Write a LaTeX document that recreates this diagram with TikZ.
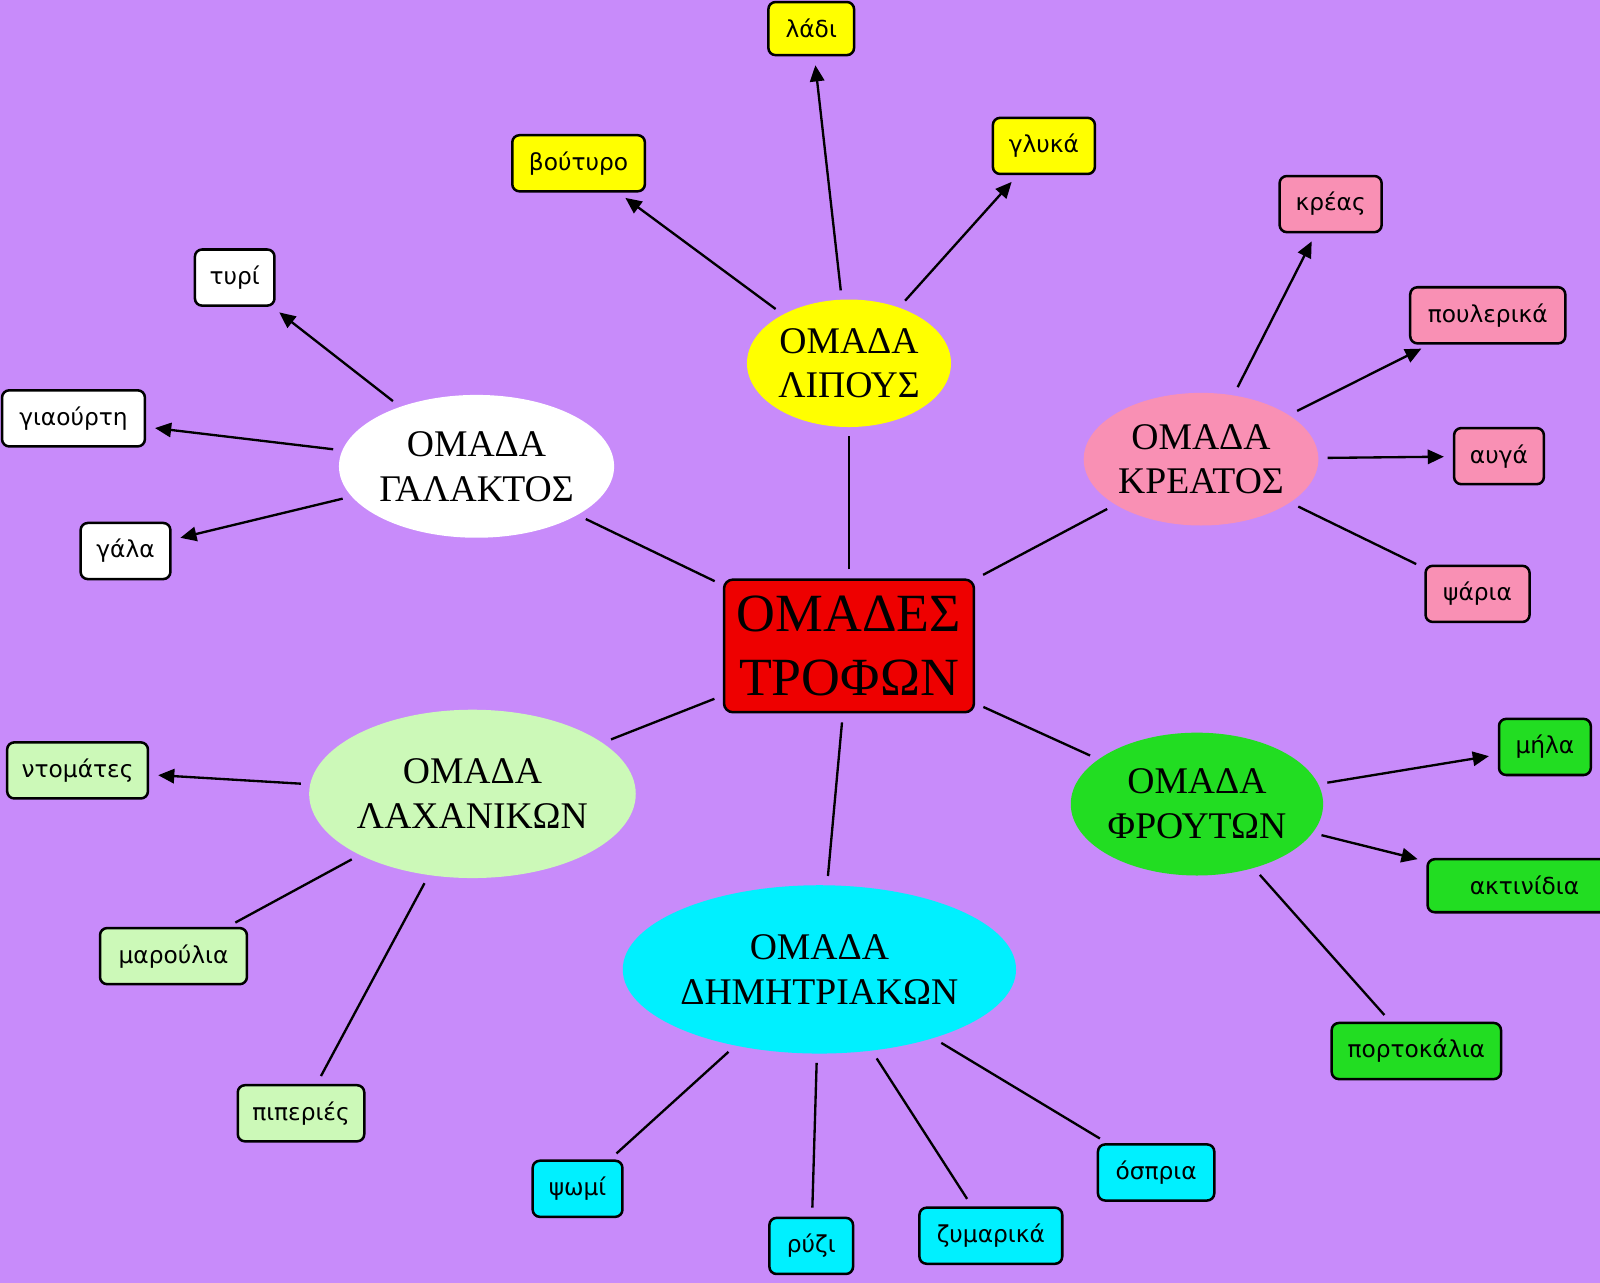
\documentclass[tikz,border=0pt]{standalone}
\usepackage{fontspec}
\setmainfont{Liberation Serif}
\newfontfamily\boxfont{DejaVu Sans}
\usetikzlibrary{shapes.geometric,arrows.meta}
\definecolor{bg}{HTML}{C88BFA}
\definecolor{fat}{HTML}{FFFF00}
\definecolor{meat}{HTML}{F990B4}
\definecolor{veg}{HTML}{CCF9B8}
\definecolor{fruit}{HTML}{22DD22}
\definecolor{cer}{HTML}{00F0FF}
\definecolor{core}{HTML}{EE0000}
\begin{document}
\begin{tikzpicture}[x=0.02cm,y=-0.02cm,
  grp/.style={ellipse,inner sep=0pt,align=center,font=\fontsize{21}{25}\selectfont},
  leaf/.style={draw=black,line width=1.4pt,rounded corners=4pt,inner sep=0pt,minimum height=1.1cm,font=\boxfont\fontsize{13}{15}\selectfont},
  ln/.style={line width=1.3pt,shorten <=5pt,shorten >=5pt},
  ar/.style={ln,-{Triangle[length=9pt,width=8pt]}}]
\fill[bg] (0,0) rectangle (1568,1257);
\useasboundingbox (0,0) rectangle (1568,1257);
\node[draw,line width=1.4pt,rounded corners=5pt,fill=core,minimum width=4.9cm,minimum height=2.6cm,align=center,font=\fontsize{30}{36}\selectfont] (c) at (832,633) {ΟΜΑΔΕΣ\\ΤΡΟΦΩΝ};
\node[grp,fill=fat,minimum width=4cm,minimum height=2.5cm] (gf) at (832,356) {ΟΜΑΔΑ\\ΛΙΠΟΥΣ};
\node[grp,fill=white,minimum width=5.2cm,minimum height=2.8cm] (gg) at (467,457) {ΟΜΑΔΑ\\ΓΑΛΑΚΤΟΣ};
\node[grp,fill=meat,minimum width=4.6cm,minimum height=2.6cm] (gk) at (1177,450) {ΟΜΑΔΑ\\ΚΡΕΑΤΟΣ};
\node[grp,fill=veg,minimum width=5.9cm,minimum height=3.3cm] (gl) at (463,778) {ΟΜΑΔΑ\\ΛΑΧΑΝΙΚΩΝ};
\node[grp,fill=fruit,minimum width=4.76cm,minimum height=2.8cm] (gr) at (1173,788) {ΟΜΑΔΑ\\ΦΡΟΥΤΩΝ};
\node[grp,fill=cer,minimum width=6.76cm,minimum height=3.3cm] (gd) at (803,950) {ΟΜΑΔΑ\\ΔΗΜΗΤΡΙΑΚΩΝ};
% leaves
\node[leaf,fill=fat,minimum width=1.68cm,minimum height=1.04cm] (l1) at (795,28) {λάδι};
\node[leaf,fill=fat,minimum width=2.6cm] (l2) at (567,160) {βούτυρο};
\node[leaf,fill=fat,minimum width=2cm] (l3) at (1023,143) {γλυκά};
\node[leaf,fill=white,minimum width=1.56cm] (m1) at (230,272) {τυρί};
\node[leaf,fill=white,minimum width=2.8cm] (m2) at (72,410) {γιαούρτη};
\node[leaf,fill=white,minimum width=1.76cm] (m3) at (123,540) {γάλα};
\node[leaf,fill=meat,minimum width=2cm] (k1) at (1304,200) {κρέας};
\node[leaf,fill=meat,minimum width=3.04cm] (k2) at (1458,309) {πουλερικά};
\node[leaf,fill=meat,minimum width=1.76cm] (k3) at (1469,447) {αυγά};
\node[leaf,fill=meat,minimum width=2.04cm] (k4) at (1448,582) {ψάρια};
\node[leaf,fill=fruit,minimum width=1.8cm] (f1) at (1514,732) {μήλα};
\node[leaf,fill=fruit,minimum width=3.8cm,minimum height=1.04cm] (f2) at (1494,868) {ακτινίδια};
\node[leaf,fill=fruit,minimum width=3.32cm] (f3) at (1388,1030) {πορτοκάλια};
\node[leaf,fill=veg,minimum width=2.76cm] (v1) at (76,755) {ντομάτες};
\node[leaf,fill=veg,minimum width=2.88cm] (v2) at (170,937) {μαρούλια};
\node[leaf,fill=veg,minimum width=2.48cm] (v3) at (295,1091) {πιπεριές};
\node[leaf,fill=cer,minimum width=1.76cm] (d1) at (566,1165) {ψωμί};
\node[leaf,fill=cer,minimum width=1.64cm] (d2) at (795,1221) {ρύζι};
\node[leaf,fill=cer,minimum width=2.8cm] (d3) at (971,1211) {ζυμαρικά};
\node[leaf,fill=cer,minimum width=2.28cm] (d4) at (1133,1149) {όσπρια};
% center links
\foreach \g in {gf,gg,gk,gl,gr,gd} \draw[ln] (c) -- (\g);
\draw[ar] (gf) -- (l1); \draw[ar] (gf) -- (l2); \draw[ar] (gf) -- (l3);
\draw[ar] (gg) -- (m1); \draw[ar] (gg) -- (m2); \draw[ar] (gg) -- (m3);
\draw[ar] (gk) -- (k1); \draw[ar] (gk) -- (k2); \draw[ar] (gk) -- (k3); \draw[ln] (gk) -- (k4);
\draw[ar] (gr) -- (f1); \draw[ar] (gr) -- (f2); \draw[ln] (gr) -- (f3);
\draw[ar] (gl) -- (v1); \draw[ln] (gl) -- (v2); \draw[ln] (gl) -- (v3);
\draw[ln] (gd) -- (d1); \draw[ln] (gd) -- (d2); \draw[ln] (gd) -- (d3); \draw[ln] (gd) -- (d4);
\end{tikzpicture}
\end{document}
